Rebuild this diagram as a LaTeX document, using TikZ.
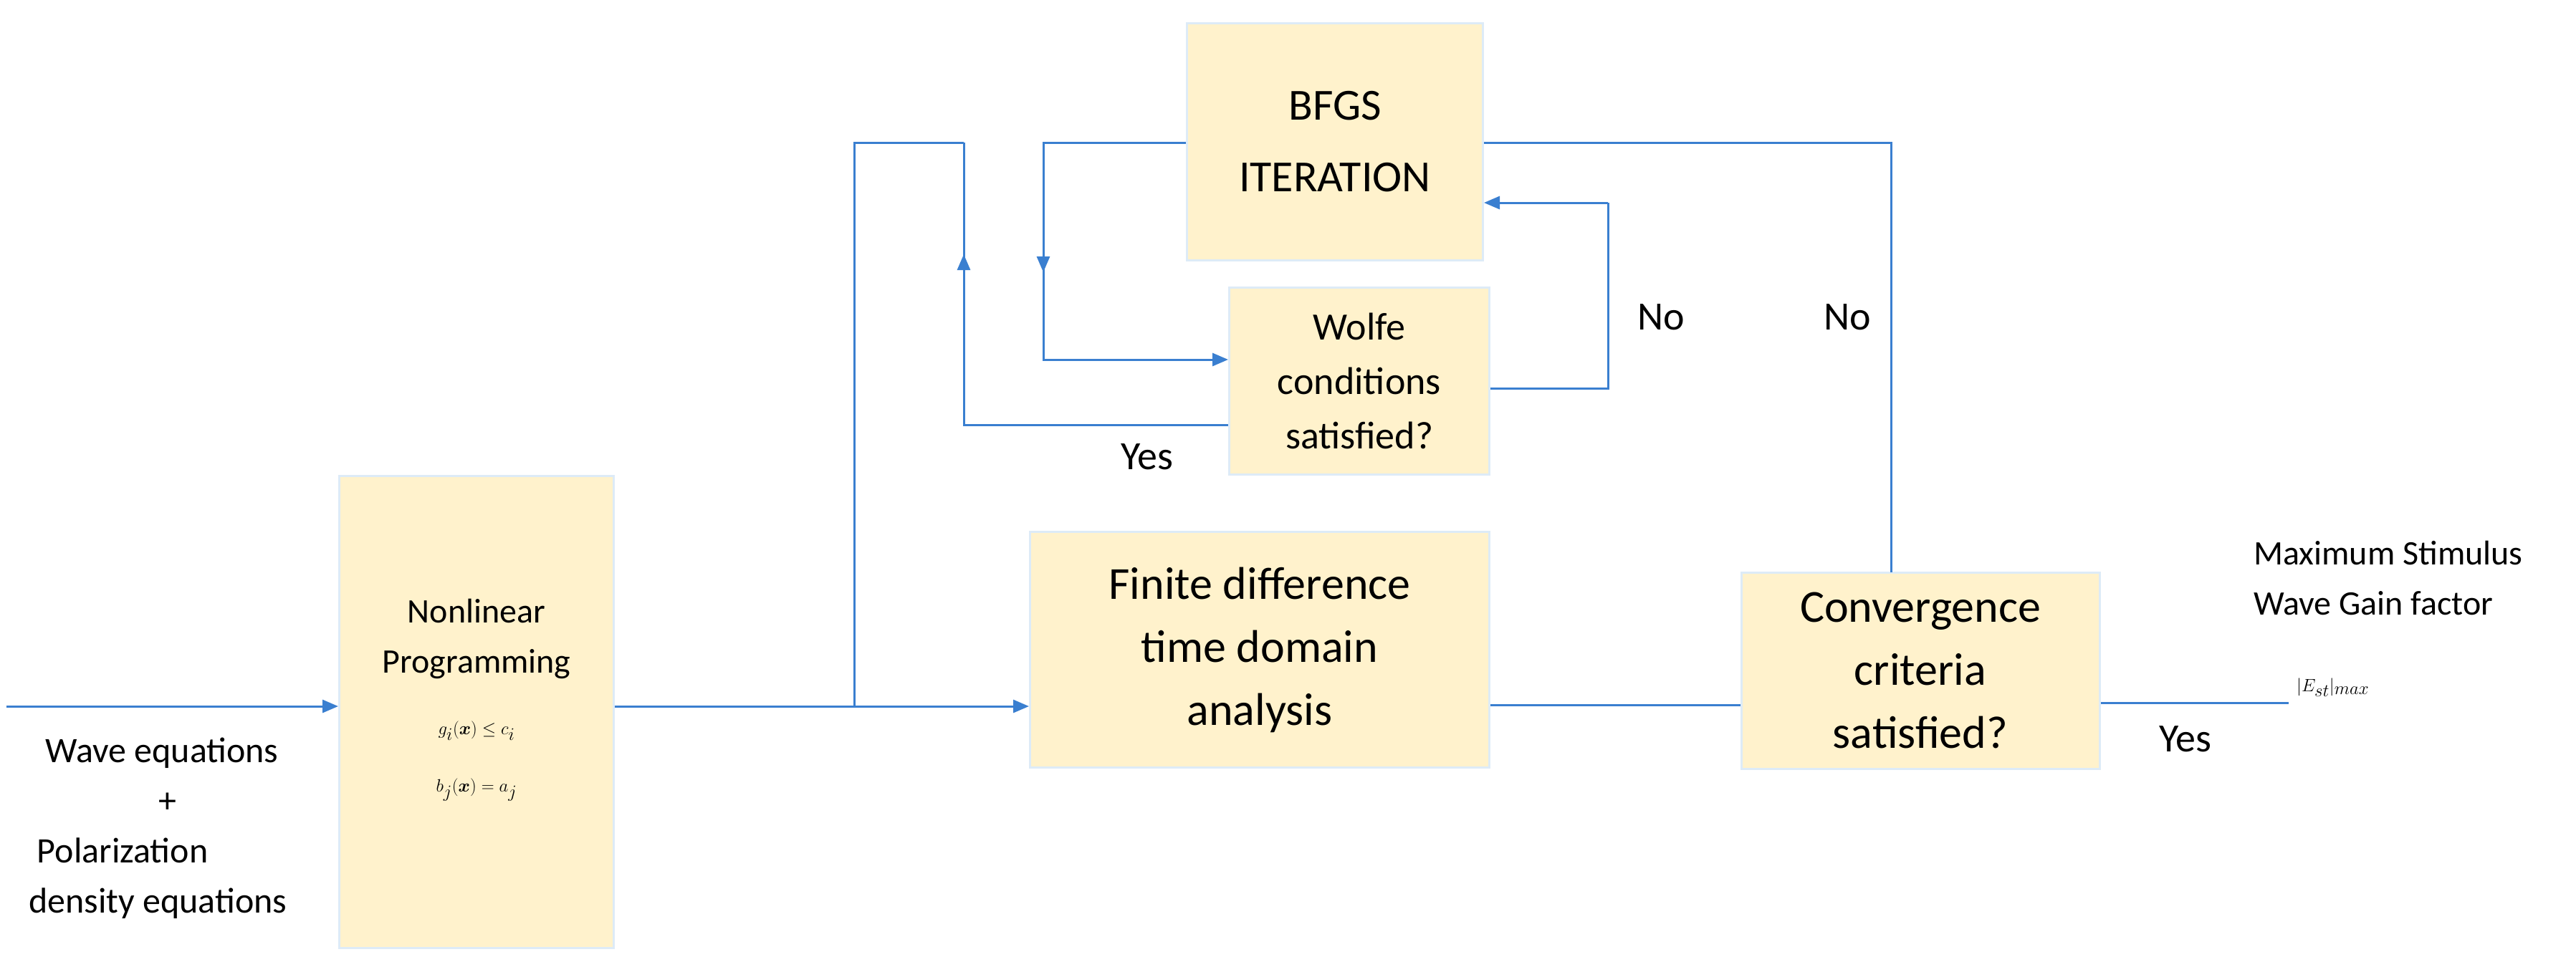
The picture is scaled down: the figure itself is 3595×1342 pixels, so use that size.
\documentclass[tikz,border=0pt]{standalone}
\usepackage{fontspec}
\setmainfont{Carlito}
\usepackage{amsmath}
\usetikzlibrary{arrows.meta}
\definecolor{boxfill}{HTML}{FFF2CC}
\definecolor{boxline}{HTML}{DDEBF7}
\definecolor{ln}{HTML}{3A7FD0}
\begin{document}
\begin{tikzpicture}[x=1pt,y=-1pt,
  box/.style={draw=boxline,line width=3pt,fill=boxfill,inner sep=0pt,align=center},
  con/.style={draw=ln,line width=3pt},
  arr/.style={con,-{Triangle[length=22pt,width=18pt]}},
  lbl/.style={font=\fontsize{56}{60}\selectfont}]
\useasboundingbox (0,0) rectangle (3595,1342);
\node[box,minimum width=383pt,minimum height=659pt,font=\fontsize{48}{70}\selectfont,anchor=north] (nlp) at (665,663)
 {\\[-250pt]Nonlinear\\Programming\\[16pt] $g_i(\boldsymbol{x})\le c_i$\\[10pt] $b_j(\boldsymbol{x}) = a_j$};
\node[box,minimum width=413pt,minimum height=331pt,font=\fontsize{62}{100}\selectfont] (bfgs) at (1863,198) {BFGS\\ITERATION};
\node[box,minimum width=363pt,minimum height=261pt,font=\fontsize{54}{76}\selectfont] (wolfe) at (1897,532) {Wolfe\\conditions\\satisfied?};
\node[box,minimum width=641pt,minimum height=329pt,font=\fontsize{64}{88}\selectfont] (fdtd) at (1758,907) {Finite difference\\time domain\\analysis};
\node[box,minimum width=500pt,minimum height=274pt,font=\fontsize{64}{88}\selectfont] (conv) at (2680,936) {Convergence\\criteria\\satisfied?};
\node[font=\fontsize{50}{70}\selectfont,align=center,anchor=north west,inner sep=0pt] (in) at (40,1030)
 {\hphantom{i}Wave equations\hfill\null\\ \hspace{170pt}+\hfill\null\\ Polarization\hfill\null\\ density equations};
\node[font=\fontsize{48}{70}\selectfont,align=left,anchor=north west,inner sep=0pt] (out) at (3145,755)
 {Maximum Stimulus\\Wave Gain factor};
\node[font=\fontsize{60}{70}\selectfont,anchor=west,inner sep=0pt] (est) at (3205,960) {$|E_{st}|_{max}$};
\coordinate (start) at (9,986);
\coordinate (j) at (1192,986);
\coordinate (outend) at (3194,981);
\draw[arr] (start) -- (nlp.west |- start);
\draw[arr] (nlp.east |- start) -- (j) -- (fdtd.west |- start);
\draw[con] (j) -- (1192,199) -- (1345,199);
\draw[con] (wolfe.west |- 0,593) -- (1345,593) -- (1345,199);
\draw[arr] (1345,593) -- (1345,355);
\draw[arr] (bfgs.west |- 0,199) -- (1456,199) -- (1456,380);
\draw[arr] (1456,370) -- (1456,502) -- (wolfe.west |- 0,502);
\draw[con] (wolfe.east |- 0,542) -- (2244,542) -- (2244,283);
\draw[arr] (2244,283) -- (bfgs.east |- 0,283);
\draw[con] (fdtd.east |- 0,984) -- (conv.west |- 0,984);
\draw[con] (2639,799) -- (2639,199) -- (bfgs.east |- 0,199);
\draw[con] (conv.east |- 0,981) -- (outend);
\node[lbl] (no1) at (2318,443) {No};
\node[lbl] (no2) at (2578,443) {No};
\node[lbl] (yes1) at (1601,638) {Yes};
\node[lbl] (yes2) at (3050,1032) {Yes};
\end{tikzpicture}
\end{document}
